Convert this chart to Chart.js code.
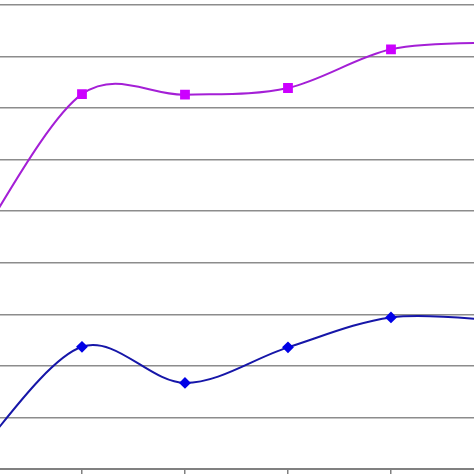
<!DOCTYPE html>
<html>
<head>
<meta charset="utf-8">
<script src="https://cdn.jsdelivr.net/npm/chart.js@4.4.0/dist/chart.umd.min.js"></script>
<style>
html,body{margin:0;padding:0;background:#fff;}
#wrap{width:474px;height:474px;}
</style>
</head>
<body>
<div id="wrap"><canvas id="c"></canvas></div>
<script>
// category positions (the first and last lie just outside the visible crop)
const categories = [0, 1, 2, 3, 4, 5];
const seriesTop = [4.44, 7.27, 7.26, 7.39, 8.14, 8.27];
const seriesBottom = [0.34, 2.37, 1.67, 2.36, 2.94, 2.89];
const xTickValues = [0, 1, 2, 3, 4, 5];
const yTickValues = [0, 1, 2, 3, 4, 5, 6, 7, 8, 9];

const toPts = arr => arr.map((v, i) => ({x: categories[i], y: v}));

// Spreadsheet-style smoothing: uniform Catmull-Rom control points (1/6 of neighbour chord)
const smoothPlugin = {
  id: 'smoothPlugin',
  beforeDatasetDraw(chart, args) {
    const meta = args.meta;
    const line = meta.dataset;
    if (!line) return;
    line.updateControlPoints(chart.chartArea, 'x');
    const pts = meta.data;
    for (let i = 0; i < pts.length; i++) {
      const p = pts[i];
      const prev = pts[i - 1] || p;
      const next = pts[i + 1] || p;
      const dx = (next.x - prev.x) / 6;
      const dy = (next.y - prev.y) / 6;
      p.cp1x = p.x - dx; p.cp1y = p.y - dy;
      p.cp2x = p.x + dx; p.cp2y = p.y + dy;
    }
    line._path = undefined;
  }
};

new Chart(document.getElementById('c'), {
  type: 'line',
  data: {
    datasets: [
      {
        data: toPts(seriesTop),
        borderColor: '#A41FD6',
        backgroundColor: '#CC00FF',
        pointBackgroundColor: '#CC00FF',
        pointBorderColor: '#CC00FF',
        pointStyle: 'rect',
        pointRadius: 5.5,
        borderWidth: 2,
        tension: 0.3,
        fill: false
      },
      {
        data: toPts(seriesBottom),
        borderColor: '#1616A8',
        backgroundColor: '#0000E6',
        pointBackgroundColor: '#0000E6',
        pointBorderColor: '#0000E6',
        pointStyle: 'rectRot',
        pointRadius: 4.5,
        borderWidth: 2,
        tension: 0.3,
        fill: false
      }
    ]
  },
  plugins: [smoothPlugin],
  options: {
    responsive: true,
    maintainAspectRatio: false,
    animation: false,
    elements: {line: {capBezierPoints: false}},
    layout: {padding: 0, autoPadding: false},
    plugins: {legend: {display: false}, tooltip: {enabled: false}, title: {display: false}},
    scales: {
      x: {
        type: 'linear',
        min: 0.204,
        max: 4.806,
        afterBuildTicks: s => { s.ticks = xTickValues.map(v => ({value: v})); },
        ticks: {display: false},
        grid: {drawOnChartArea: false, drawTicks: true, tickLength: 5, color: '#808080', lineWidth: 1.5},
        border: {display: true, color: '#808080', width: 2}
      },
      y: {
        type: 'linear',
        min: 0,
        max: 9.097,
        afterBuildTicks: s => { s.ticks = yTickValues.map(v => ({value: v})); },
        ticks: {display: false},
        grid: {drawTicks: false, color: '#8C8C8C', lineWidth: 1.5},
        border: {display: false}
      }
    }
  }
});
</script>
</body>
</html>
